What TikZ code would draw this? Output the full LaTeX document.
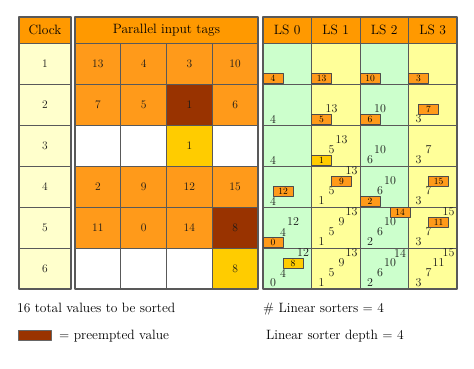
\documentclass[tikz,border=0pt]{standalone}
\definecolor{hdr}{HTML}{FF9900}
\definecolor{tag}{HTML}{FF9A1A}
\definecolor{pre}{HTML}{993300}
\definecolor{gold}{HTML}{FFCC00}
\definecolor{clk}{HTML}{FFFFCC}
\definecolor{lsg}{HTML}{CCFFCC}
\definecolor{lsy}{HTML}{FFFF99}
\definecolor{rule}{HTML}{595959}
\tikzset{
  cellline/.style={draw=rule, line width=0.8pt},
  grpline/.style={draw=rule, line width=1.6pt},
  hdrtext/.style={font=\fontsize{13.5}{15}\selectfont},
  tagtext/.style={font=\fontsize{11.5}{13}\selectfont, text=black!90},
  lsnum/.style={font=\fontsize{12}{13}\selectfont, text=black!90, inner sep=0pt},
  lsbox/.style={draw=black!70, fill=tag, line width=0.6pt, minimum width=20pt,
    minimum height=10pt, inner sep=0pt, font=\fontsize{9.5}{10}\selectfont},
  lsgold/.style={lsbox, fill=gold},
}
\begin{document}
\begin{tikzpicture}[x=1pt,y=-1pt, line join=round]
\useasboundingbox (0,0) rectangle (474,368);
%Clock
\fill[hdr] (19,17) rectangle (71,43);
\fill[clk] (19,43) rectangle (71,289);
\foreach \r in {1,...,6}{
  \node[tagtext] (clk\r) at (45,{43+41*\r-20.5}) {\r};
  \draw[cellline] (19,{43+41*(\r-1)}) -- (71,{43+41*(\r-1)});
}
\draw[grpline] (19,17) rectangle (71,289);
\node[hdrtext] (clkhdr) at (45,30) {Clock};
%Parallel input tags
\fill[hdr] (75,17) rectangle (258,43);
\foreach \r/\row in {1/{13/tag,4/tag,3/tag,10/tag},2/{7/tag,5/tag,1/pre,6/tag},
    3/{/white,/white,1/gold,/white},4/{2/tag,9/tag,12/tag,15/tag},
    5/{11/tag,0/tag,14/tag,8/pre},6/{/white,/white,/white,8/gold}}
  \foreach \v/\f [count=\c from 0] in \row {
    \fill[\f] ({75+45.75*\c},{43+41*(\r-1)}) rectangle ++(45.75,41);
    \node[tagtext] (tag\r\c) at ({75+45.75*\c+22.875},{43+41*\r-20.5}) {\v};
  }
\foreach \c in {1,2,3} \draw[cellline] ({75+45.75*\c},43) -- ({75+45.75*\c},289);
\foreach \r in {0,...,5} \draw[cellline] (75,{43+41*\r}) -- (258,{43+41*\r});
\draw[grpline] (75,17) rectangle (258,289);
\node[hdrtext] (taghdr) at (166.5,30) {Parallel input tags};
%Linear sorters
\foreach \c/\f in {0/lsg,1/lsy,2/lsg,3/lsy}{
  \fill[hdr] ({263+48.5*\c},17) rectangle ++(48.5,26);
  \fill[\f] ({263+48.5*\c},43) rectangle ++(48.5,246);
  \node[hdrtext] (lshdr\c) at ({263+48.5*\c+24.25},30) {LS \c};
}
\foreach \c in {1,2,3} \draw[cellline] ({263+48.5*\c},17) -- ({263+48.5*\c},289);
\foreach \r in {0,...,5} \draw[cellline] (263,{43+41*\r}) -- (457,{43+41*\r});
\draw[grpline] (263,17) rectangle (457,289);
% row/column/slot/value/style
\foreach \r/\c/\k/\v/\s in {
  1/0/0/4/lsbox, 1/1/0/13/lsbox, 1/2/0/10/lsbox, 1/3/0/3/lsbox,
  2/0/0/4/lsnum, 2/1/0/5/lsbox, 2/1/1/13/lsnum, 2/2/0/6/lsbox, 2/2/1/10/lsnum,
  2/3/0/3/lsnum, 2/3/1/7/lsbox,
  3/0/0/4/lsnum, 3/1/0/1/lsgold, 3/1/1/5/lsnum, 3/1/2/13/lsnum,
  3/2/0/6/lsnum, 3/2/1/10/lsnum, 3/3/0/3/lsnum, 3/3/1/7/lsnum,
  4/0/0/4/lsnum, 4/0/1/12/lsbox, 4/1/0/1/lsnum, 4/1/1/5/lsnum, 4/1/2/9/lsbox,
  4/1/3/13/lsnum, 4/2/0/2/lsbox, 4/2/1/6/lsnum, 4/2/2/10/lsnum,
  4/3/0/3/lsnum, 4/3/1/7/lsnum, 4/3/2/15/lsbox,
  5/0/0/0/lsbox, 5/0/1/4/lsnum, 5/0/2/12/lsnum,
  5/1/0/1/lsnum, 5/1/1/5/lsnum, 5/1/2/9/lsnum, 5/1/3/13/lsnum,
  5/2/0/2/lsnum, 5/2/1/6/lsnum, 5/2/2/10/lsnum, 5/2/3/14/lsbox,
  5/3/0/3/lsnum, 5/3/1/7/lsnum, 5/3/2/11/lsbox, 5/3/3/15/lsnum,
  6/0/0/0/lsnum, 6/0/1/4/lsnum, 6/0/2/8/lsgold, 6/0/3/12/lsnum,
  6/1/0/1/lsnum, 6/1/1/5/lsnum, 6/1/2/9/lsnum, 6/1/3/13/lsnum,
  6/2/0/2/lsnum, 6/2/1/6/lsnum, 6/2/2/10/lsnum, 6/2/3/14/lsnum,
  6/3/0/3/lsnum, 6/3/1/7/lsnum, 6/3/2/11/lsnum, 6/3/3/15/lsnum}
  \node[\s] (ls\r\c\k) at ({263+48.5*\c+10+10*\k},{43+41*\r-6-10*\k}) {\v};
%Legend
\node[hdrtext, anchor=base west, inner sep=0pt] (total) at (17,312) {16 total values to be sorted};
\filldraw[fill=pre, draw=black!60, line width=0.6pt] (18,330) rectangle (51,340);
\node[hdrtext, anchor=base west, inner sep=0pt] (prelabel) at (59,339) {= preempted value};
\node[hdrtext, anchor=base west, inner sep=0pt] (nsort) at (263,312) {\# Linear sorters = 4};
\node[hdrtext, anchor=base west, inner sep=0pt] (depth) at (266,339) {Linear sorter depth = 4};
\end{tikzpicture}
\end{document}
